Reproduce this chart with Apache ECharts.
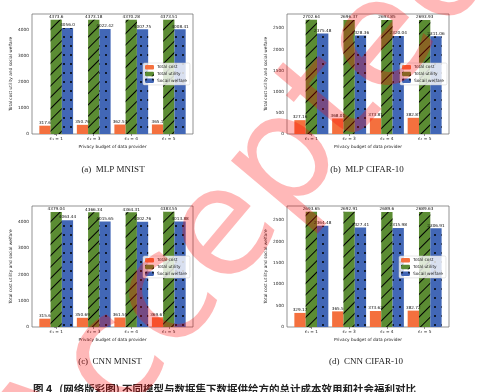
<!DOCTYPE html>
<html><head><meta charset="utf-8">
<script src="https://cdn.jsdelivr.net/npm/echarts@6/dist/echarts.min.js"></script>
<style>html,body{margin:0;padding:0;background:#fff}#c{width:500px;height:392px}</style>
</head><body><div id="c"></div>
<script>
// ---- data ----
const categories = ['ϵ₁ = 1', 'ϵ₂ = 3', 'ϵ₃ = 4', 'ϵ₄ = 5'];
const seriesNames = ['Total cost', 'Total utility', 'Socail welfare'];
const mlpMnistCost    = [317.6, 350.76, 362.53, 365.1];
const mlpMnistUtil    = [4373.6, 4373.18, 4370.28, 4373.51];
const mlpMnistWelf    = [4056.0, 4022.42, 4007.75, 4008.41];
const mlpCifarCost    = [327.16, 368.01, 373.81, 382.87];
const mlpCifarUtil    = [2702.64, 2696.37, 2693.85, 2693.93];
const mlpCifarWelf    = [2375.48, 2328.36, 2320.04, 2311.06];
const cnnMnistCost    = [315.6, 350.69, 361.55, 369.67];
const cnnMnistUtil    = [4379.04, 4366.34, 4364.31, 4383.55];
const cnnMnistWelf    = [4063.44, 4015.65, 4002.76, 4013.88];
const cnnCifarCost    = [329.17, 365.5, 373.62, 382.72];
const cnnCifarUtil    = [2693.65, 2692.91, 2689.6, 2689.63];
const cnnCifarWelf    = [2364.48, 2327.41, 2315.98, 2306.91];
const yTicksMnist = [0, 1000, 2000, 3000, 4000];
const yTicksCifar = [0, 500, 1000, 1500, 2000, 2500];
const subCaptions = ['(a)  MLP MNIST', '(b)  MLP CIFAR-10', '(c)  CNN MNIST', '(d)  CNN CIFAR-10'];
const figCaption = '图 4   (网络版彩图) 不同模型与数据集下数据供给方的总计成本效用和社会福利对比';
const xAxisTitle = 'Privacy budget of data provider';
const yAxisTitle = 'Total cost utility and social welfare';

// ---- layout / style ----
const panels = [
  {cost: mlpMnistCost, util: mlpMnistUtil, welf: mlpMnistWelf, ticks: yTicksMnist, ymax: 4592.28,
   grid: {left: 32, top: 14, width: 161, height: 120}, legend: {left: 143, top: 63}, cap: {x: 113, y: 170}},
  {cost: mlpCifarCost, util: mlpCifarUtil, welf: mlpCifarWelf, ticks: yTicksCifar, ymax: 2837.77,
   grid: {left: 287, top: 14, width: 162, height: 120}, legend: {left: 400, top: 63}, cap: {x: 367, y: 170}},
  {cost: cnnMnistCost, util: cnnMnistUtil, welf: cnnMnistWelf, ticks: yTicksMnist, ymax: 4602.73,
   grid: {left: 32, top: 206, width: 161, height: 121}, legend: {left: 143, top: 256}, cap: {x: 110, y: 362}},
  {cost: cnnCifarCost, util: cnnCifarUtil, welf: cnnCifarWelf, ticks: yTicksCifar, ymax: 2828.33,
   grid: {left: 287, top: 206, width: 162, height: 121}, legend: {left: 399, top: 256}, cap: {x: 366, y: 362}}
];
const colors = ['#f4703e', '#5b8c33', '#4267b6'];
const decals = [
  null,
  {symbol: 'rect', symbolSize: 1, color: '#000', dashArrayX: [1, 0], dashArrayY: [0.6, 7], rotation: -Math.PI / 4},
  {symbol: 'circle', symbolSize: 1, color: '#000', dashArrayX: [1.3, 4.8], dashArrayY: [1.3, 6.4], rotation: 0}
];
const FONT = 'DejaVu Sans';
const fmt = v => Number.isInteger(v) ? v.toFixed(1) : String(v);
const idx = categories.map((c, i) => i);

const grid = [], xAxis = [], yAxis = [], series = [], legend = [], graphic = [];
panels.forEach((p, k) => {
  grid.push(Object.assign({show: true, borderColor: '#666', borderWidth: 0.7, backgroundColor: 'transparent'}, p.grid));
  xAxis.push({
    type: 'value', gridIndex: k, min: -0.645, max: 3.645,
    axisLine: {show: false}, splitLine: {show: false},
    axisTick: {show: true, customValues: idx, length: 2, lineStyle: {color: '#444', width: 0.6}},
    axisLabel: {customValues: idx, formatter: v => categories[Math.round(v)] || '', fontSize: 4.3, fontFamily: FONT, color: '#222', margin: 3},
    name: xAxisTitle, nameLocation: 'middle', nameGap: 11, nameTextStyle: {fontSize: 4.3, fontFamily: FONT, color: '#222'}
  });
  yAxis.push({
    type: 'value', gridIndex: k, min: 0, max: p.ymax,
    axisLine: {show: false}, splitLine: {show: false},
    axisTick: {show: true, customValues: p.ticks, length: 2, lineStyle: {color: '#444', width: 0.6}},
    axisLabel: {customValues: p.ticks, formatter: v => String(v), fontSize: 4.3, fontFamily: FONT, color: '#222', margin: 3},
    name: yAxisTitle, nameLocation: 'middle', nameGap: 19, nameTextStyle: {fontSize: 4.3, fontFamily: FONT, color: '#222'}
  });
  [p.cost, p.util, p.welf].forEach((arr, s) => {
    series.push({
      type: 'bar', name: seriesNames[s], xAxisIndex: k, yAxisIndex: k,
      barWidth: '30%', barGap: '0%',
      data: arr.map((v, i) => [i, v]),
      itemStyle: {color: colors[s], decal: decals[s] || undefined},
      label: {show: true, position: 'top', distance: 0.8, fontSize: 4.2, fontFamily: FONT, color: '#111',
              formatter: q => fmt(q.value[1])},
      emphasis: {disabled: true}
    });
  });
  legend.push({
    left: p.legend.left, top: p.legend.top, orient: 'vertical', data: seriesNames,
    itemWidth: 9, itemHeight: 4.5, itemGap: 2.2, padding: [2, 3, 2, 2],
    backgroundColor: 'rgba(255,255,255,0.8)', borderColor: '#ccc', borderWidth: 0.5, borderRadius: 1.5,
    textStyle: {fontSize: 4.3, fontFamily: FONT, color: '#222', padding: [0, 0, 0, -2]},
    selectedMode: false
  });
  graphic.push({type: 'text', x: p.cap.x, y: p.cap.y, z: 10,
    style: {text: subCaptions[k], font: '9px "Liberation Serif"', fill: '#222', textAlign: 'center', textVerticalAlign: 'middle'}});
});
graphic.push({type: 'text', x: 33, y: 389, z: 10,
  style: {text: figCaption, font: 'bold 10.5px "Noto Sans CJK SC"', fill: '#222', textVerticalAlign: 'middle'}});
// watermark
graphic.push({type: 'text', x: 250, y: 205, rotation: 50 * Math.PI / 180, z: 100, silent: true,
  style: {text: 'Accepted', font: '150px "DejaVu Sans"', fill: 'rgba(255,0,0,0.28)', textAlign: 'center', textVerticalAlign: 'middle'}});

const chart = echarts.init(document.getElementById('c'), null, {renderer: 'canvas'});
chart.setOption({animation: false, backgroundColor: '#fff', grid, xAxis, yAxis, series, legend, graphic});
</script></body></html>
